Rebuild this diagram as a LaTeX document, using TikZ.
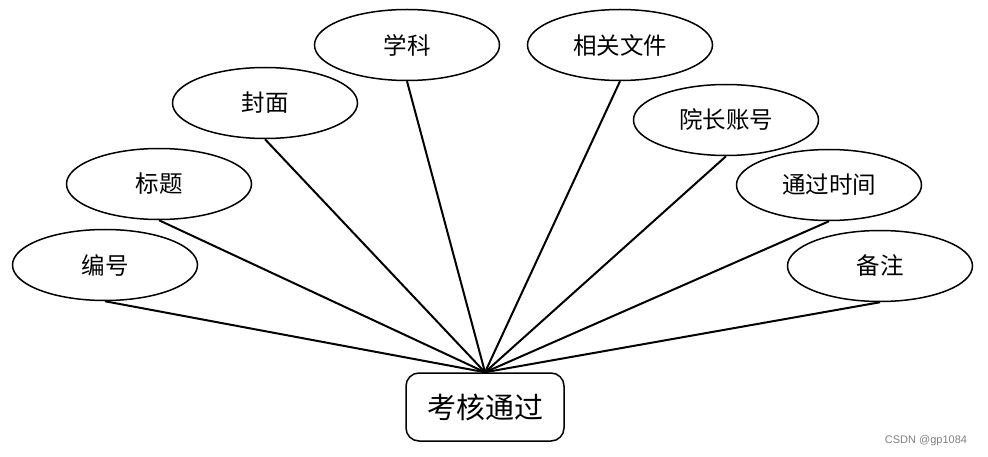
\documentclass[tikz,border=0pt]{standalone}
\usepackage{fontspec}
\newfontfamily\cjk{Noto Sans CJK SC}
\newfontfamily\wmfont{Liberation Sans}
\usetikzlibrary{shapes.geometric}
\begin{document}
\begin{tikzpicture}[x=1pt,y=-1pt,
  attr/.style={ellipse,draw,line width=1.5pt,minimum width=185pt,minimum height=71pt,inner sep=0pt,font=\cjk\fontsize{23.5}{26}\selectfont},
  entity/.style={rectangle,rounded corners=13pt,draw,line width=1.5pt,minimum width=158pt,minimum height=68pt,inner sep=0pt,font=\cjk\fontsize{29}{32}\selectfont},
  link/.style={line width=2pt}]
\useasboundingbox (0,0) rectangle (988,457);
\node[entity] (e) at (485,407) {考核通过};
\node[attr] (a1) at (105,265) {编号};
\node[attr] (a2) at (159,184) {标题};
\node[attr] (a3) at (265,103) {封面};
\node[attr] (a4) at (407,45) {学科};
\node[attr] (a5) at (620,45) {相关文件};
\node[attr] (a6) at (726,120) {院长账号};
\node[attr] (a7) at (829,185) {通过时间};
\node[attr] (a8) at (880,266) {备注};
\foreach \i in {1,...,8} {\draw[link] (a\i.south) -- (e.north);}
\node[font=\wmfont\fontsize{11}{13}\selectfont,text=gray] (wm) at (926,441) {CSDN @gp1084};
\end{tikzpicture}
\end{document}
